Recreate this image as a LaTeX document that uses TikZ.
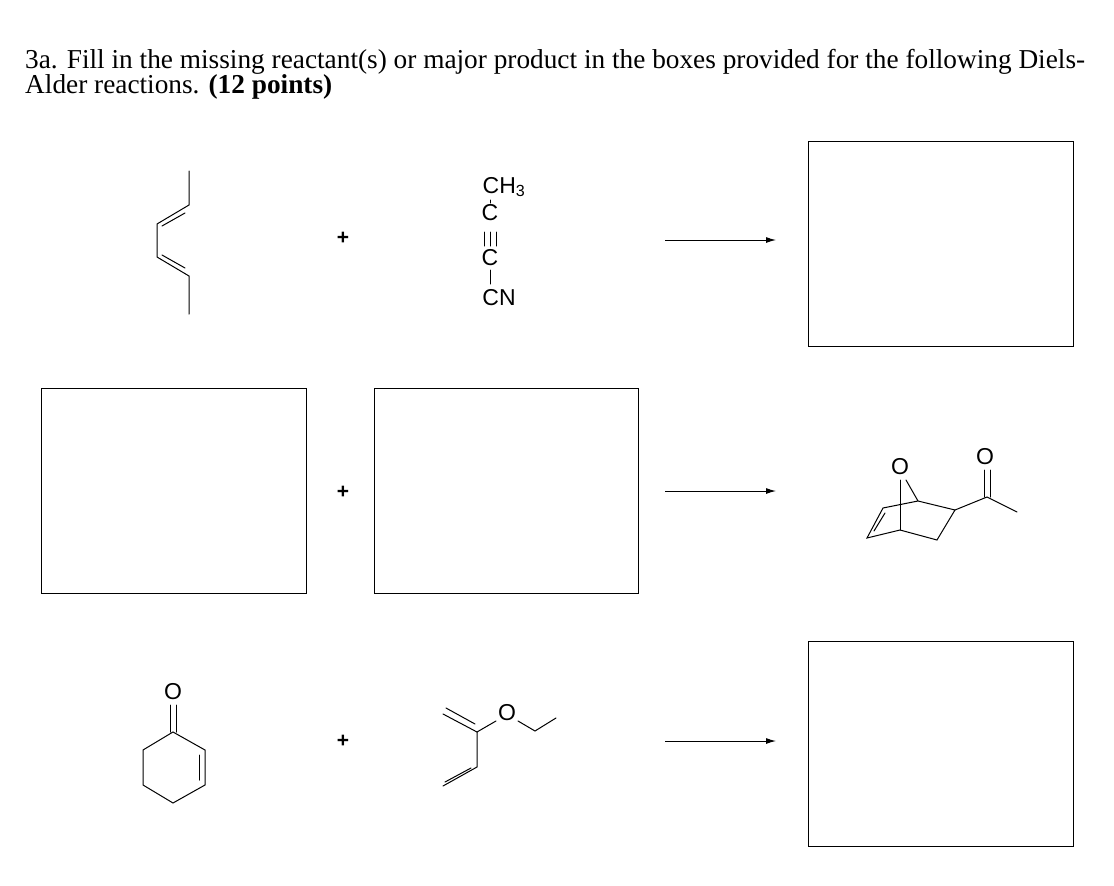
\documentclass[tikz,border=0pt]{standalone}
\usepackage{fontspec}
\setmainfont{Liberation Serif}
\newfontfamily\chemf{Liberation Sans}
\usetikzlibrary{arrows.meta}
\begin{document}
\begin{tikzpicture}[x=1pt,y=-1pt,
  bond/.style={line width=1pt,line cap=round},
  ansbox/.style={draw,line width=0.8pt},
  rxarrow/.style={line width=1pt,-{Latex[length=10pt,width=6pt]}},
  atom/.style={font=\chemf\fontsize{23}{23}\selectfont,inner sep=1pt},
  plus/.style={font=\chemf\bfseries\fontsize{21}{21}\selectfont}]
\useasboundingbox (0,0) rectangle (1114,886);
\node[anchor=base west,align=left,font=\fontsize{27.3}{28}\selectfont,inner sep=0] (title) at (25,68)
 {3a. Fill in the missing reactant(s) or major product in the boxes provided for the following Diels-};
\node[anchor=base west,font=\fontsize{27.3}{28}\selectfont,inner sep=0] (title2) at (25,93)
 {Alder reactions. \textbf{(12 points)}};
% boxes
\node[ansbox,minimum width=265,minimum height=205,anchor=north west] (b1) at (808,141) {};
\node[ansbox,minimum width=265,minimum height=205,anchor=north west] (b2) at (41,388) {};
\node[ansbox,minimum width=264,minimum height=205,anchor=north west] (b3) at (374,388) {};
\node[ansbox,minimum width=265,minimum height=205,anchor=north west] (b4) at (808,641) {};
% plus
\node[plus] (p1) at (343,238) {+};
\node[plus] (p2) at (343,492) {+};
\node[plus] (p3) at (343,741) {+};
% arrows
\coordinate (a1s) at (665,240); \coordinate (a1e) at (776,240);
\coordinate (a2s) at (665,491); \coordinate (a2e) at (776,491);
\coordinate (a3s) at (665,741); \coordinate (a3e) at (776,741);
\draw[rxarrow] (a1s) -- (a1e);
\draw[rxarrow] (a2s) -- (a2e);
\draw[rxarrow] (a3s) -- (a3e);
% diene 1
\draw[bond] (189,171) -- (189,205) -- (157,224) -- (157,257) -- (189,276) -- (189,314);
\draw[bond] (185,213) -- (162,226);
\draw[bond] (162,255) -- (185,268);
% alkyne
\node[atom] (ch3) at (504,187) {CH\textsubscript{3}};
\node[atom] (c1) at (490,213) {C};
\node[atom] (c2) at (490,258) {C};
\node[atom] (cn) at (499,298) {CN};
\draw[bond] (490,200) -- (490,203);
\draw[bond] (484,232) -- (484,246);
\draw[bond] (490,232) -- (490,246);
\draw[bond] (496,232) -- (496,246);
\draw[bond] (490,270) -- (490,284);
% product 2
\node[atom] (o2) at (900,467) {O};
\draw[bond] (900,480) -- (900,530);
\draw[bond] (906,480) -- (918,501) -- (955,510) -- (937,540) -- (900,530) -- (867,538) -- (883,508) -- (918,501);
\draw[bond] (874,531) -- (885,513);
\draw[bond] (955,510) -- (987,497) -- (1017,512);
\node[atom] (o3) at (985,457) {O};
\draw[bond] (984,470) -- (984,497);
\draw[bond] (990,470) -- (990,497);
% cyclohexenone
\node[atom] (o4) at (173,692) {O};
\draw[bond] (170,705) -- (170,732);
\draw[bond] (176,705) -- (176,732);
\draw[bond] (173,732) -- (205,750) -- (205,785) -- (173,803) -- (143,785) -- (143,750) -- cycle;
\draw[bond] (199,755) -- (199,780);
% 2-ethoxybutadiene
\node[atom] (o5) at (507,713) {O};
\draw[bond] (443,714) -- (477,732);
\draw[bond] (446,708) -- (475,724);
\draw[bond] (477,732) -- (496,721);
\draw[bond] (518,721) -- (535,731) -- (556,718);
\draw[bond] (477,732) -- (477,767) -- (443,786);
\draw[bond] (471,768) -- (445,782);
\end{tikzpicture}
\end{document}
